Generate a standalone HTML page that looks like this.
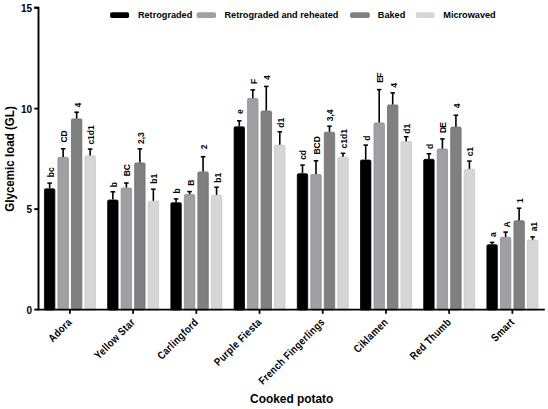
<!DOCTYPE html><html><head><meta charset="utf-8"><style>html,body{margin:0;padding:0;background:#fff;width:548px;height:409px;overflow:hidden}svg{display:block}text{font-family:"Liberation Sans",sans-serif;font-weight:bold;fill:#000}</style></head><body>
<svg width="548" height="409" viewBox="0 0 548 409">
<rect width="548" height="409" fill="#fff"/>
<rect x="44.45" y="188.80" width="10.40" height="121.20" rx="1.3" fill="#000000" stroke="#000000" stroke-width="0.8"/>
<line x1="49.65" y1="188.40" x2="49.65" y2="182.80" stroke="#000" stroke-width="1.6"/>
<line x1="47.35" y1="183.10" x2="51.95" y2="183.10" stroke="#000" stroke-width="1.5"/>
<text transform="translate(53.65,172.30) rotate(-90) scale(1,1.16)" text-anchor="middle" font-size="8.5">bc</text>
<rect x="57.95" y="157.30" width="10.40" height="152.70" rx="1.3" fill="#a0a0a4" stroke="#8e8e92" stroke-width="0.8"/>
<line x1="63.15" y1="156.90" x2="63.15" y2="148.50" stroke="#000" stroke-width="1.6"/>
<line x1="60.85" y1="148.80" x2="65.45" y2="148.80" stroke="#000" stroke-width="1.5"/>
<text transform="translate(67.15,136.45) rotate(-90) scale(1,1.16)" text-anchor="middle" font-size="8.5">CD</text>
<rect x="71.45" y="118.90" width="10.40" height="191.10" rx="1.3" fill="#808080" stroke="#6e6e6e" stroke-width="0.8"/>
<line x1="76.65" y1="118.50" x2="76.65" y2="111.90" stroke="#000" stroke-width="1.6"/>
<line x1="74.35" y1="112.20" x2="78.95" y2="112.20" stroke="#000" stroke-width="1.5"/>
<text transform="translate(80.65,105.10) rotate(-90) scale(1,1.16)" text-anchor="middle" font-size="8.5">4</text>
<rect x="84.95" y="155.80" width="10.40" height="154.20" rx="1.3" fill="#d6d6d6" stroke="#c6c6c6" stroke-width="0.8"/>
<line x1="90.15" y1="155.40" x2="90.15" y2="148.80" stroke="#000" stroke-width="1.6"/>
<line x1="87.85" y1="149.10" x2="92.45" y2="149.10" stroke="#000" stroke-width="1.5"/>
<text transform="translate(94.15,134.95) rotate(-90) scale(1,1.16)" text-anchor="middle" font-size="8.5">c1d1</text>
<line x1="69.90" y1="309" x2="69.90" y2="313.8" stroke="#000" stroke-width="1.8"/>
<text transform="translate(72.60,322.8) rotate(-45) scale(1,1.2)" text-anchor="end" font-size="9.1" letter-spacing="0.35">Adora</text>
<rect x="107.66" y="200.00" width="10.40" height="110.00" rx="1.3" fill="#000000" stroke="#000000" stroke-width="0.8"/>
<line x1="112.86" y1="199.60" x2="112.86" y2="191.50" stroke="#000" stroke-width="1.6"/>
<line x1="110.56" y1="191.80" x2="115.16" y2="191.80" stroke="#000" stroke-width="1.5"/>
<text transform="translate(116.86,184.60) rotate(-90) scale(1,1.16)" text-anchor="middle" font-size="8.5">b</text>
<rect x="121.16" y="188.00" width="10.40" height="122.00" rx="1.3" fill="#a0a0a4" stroke="#8e8e92" stroke-width="0.8"/>
<line x1="126.36" y1="187.60" x2="126.36" y2="182.70" stroke="#000" stroke-width="1.6"/>
<line x1="124.06" y1="183.00" x2="128.66" y2="183.00" stroke="#000" stroke-width="1.5"/>
<text transform="translate(130.36,170.20) rotate(-90) scale(1,1.16)" text-anchor="middle" font-size="8.5">BC</text>
<rect x="134.66" y="162.90" width="10.40" height="147.10" rx="1.3" fill="#808080" stroke="#6e6e6e" stroke-width="0.8"/>
<line x1="139.86" y1="162.50" x2="139.86" y2="148.60" stroke="#000" stroke-width="1.6"/>
<line x1="137.56" y1="148.90" x2="142.16" y2="148.90" stroke="#000" stroke-width="1.5"/>
<text transform="translate(143.86,138.15) rotate(-90) scale(1,1.16)" text-anchor="middle" font-size="8.5">2,3</text>
<rect x="148.16" y="201.20" width="10.40" height="108.80" rx="1.3" fill="#d6d6d6" stroke="#c6c6c6" stroke-width="0.8"/>
<line x1="153.36" y1="200.80" x2="153.36" y2="188.90" stroke="#000" stroke-width="1.6"/>
<line x1="151.06" y1="189.20" x2="155.66" y2="189.20" stroke="#000" stroke-width="1.5"/>
<text transform="translate(157.36,178.70) rotate(-90) scale(1,1.16)" text-anchor="middle" font-size="8.5">b1</text>
<line x1="133.11" y1="309" x2="133.11" y2="313.8" stroke="#000" stroke-width="1.8"/>
<text transform="translate(135.81,322.8) rotate(-45) scale(1,1.2)" text-anchor="end" font-size="9.1" letter-spacing="0.35">Yellow Star</text>
<rect x="170.87" y="202.70" width="10.40" height="107.30" rx="1.3" fill="#000000" stroke="#000000" stroke-width="0.8"/>
<line x1="176.07" y1="202.30" x2="176.07" y2="198.60" stroke="#000" stroke-width="1.6"/>
<line x1="173.77" y1="198.90" x2="178.37" y2="198.90" stroke="#000" stroke-width="1.5"/>
<text transform="translate(180.07,190.90) rotate(-90) scale(1,1.16)" text-anchor="middle" font-size="8.5">b</text>
<rect x="184.37" y="194.60" width="10.40" height="115.40" rx="1.3" fill="#a0a0a4" stroke="#8e8e92" stroke-width="0.8"/>
<line x1="189.57" y1="194.20" x2="189.57" y2="191.30" stroke="#000" stroke-width="1.6"/>
<line x1="187.27" y1="191.60" x2="191.87" y2="191.60" stroke="#000" stroke-width="1.5"/>
<text transform="translate(193.57,182.80) rotate(-90) scale(1,1.16)" text-anchor="middle" font-size="8.5">B</text>
<rect x="197.87" y="171.90" width="10.40" height="138.10" rx="1.3" fill="#808080" stroke="#6e6e6e" stroke-width="0.8"/>
<line x1="203.07" y1="171.50" x2="203.07" y2="156.40" stroke="#000" stroke-width="1.6"/>
<line x1="200.77" y1="156.70" x2="205.37" y2="156.70" stroke="#000" stroke-width="1.5"/>
<text transform="translate(207.07,146.90) rotate(-90) scale(1,1.16)" text-anchor="middle" font-size="8.5">2</text>
<rect x="211.37" y="195.30" width="10.40" height="114.70" rx="1.3" fill="#d6d6d6" stroke="#c6c6c6" stroke-width="0.8"/>
<line x1="216.57" y1="194.90" x2="216.57" y2="186.90" stroke="#000" stroke-width="1.6"/>
<line x1="214.27" y1="187.20" x2="218.87" y2="187.20" stroke="#000" stroke-width="1.5"/>
<text transform="translate(220.57,177.70) rotate(-90) scale(1,1.16)" text-anchor="middle" font-size="8.5">b1</text>
<line x1="196.32" y1="309" x2="196.32" y2="313.8" stroke="#000" stroke-width="1.8"/>
<text transform="translate(199.02,322.8) rotate(-45) scale(1,1.2)" text-anchor="end" font-size="9.1" letter-spacing="0.35">Carlingford</text>
<rect x="234.08" y="126.80" width="10.40" height="183.20" rx="1.3" fill="#000000" stroke="#000000" stroke-width="0.8"/>
<line x1="239.28" y1="126.40" x2="239.28" y2="120.50" stroke="#000" stroke-width="1.6"/>
<line x1="236.98" y1="120.80" x2="241.58" y2="120.80" stroke="#000" stroke-width="1.5"/>
<text transform="translate(243.28,111.70) rotate(-90) scale(1,1.16)" text-anchor="middle" font-size="8.5">e</text>
<rect x="247.58" y="98.50" width="10.40" height="211.50" rx="1.3" fill="#a0a0a4" stroke="#8e8e92" stroke-width="0.8"/>
<line x1="252.78" y1="98.10" x2="252.78" y2="89.60" stroke="#000" stroke-width="1.6"/>
<line x1="250.48" y1="89.90" x2="255.08" y2="89.90" stroke="#000" stroke-width="1.5"/>
<text transform="translate(256.78,81.45) rotate(-90) scale(1,1.16)" text-anchor="middle" font-size="8.5">F</text>
<rect x="261.08" y="111.00" width="10.40" height="199.00" rx="1.3" fill="#808080" stroke="#6e6e6e" stroke-width="0.8"/>
<line x1="266.28" y1="110.60" x2="266.28" y2="86.10" stroke="#000" stroke-width="1.6"/>
<line x1="263.98" y1="86.40" x2="268.58" y2="86.40" stroke="#000" stroke-width="1.5"/>
<text transform="translate(270.28,77.60) rotate(-90) scale(1,1.16)" text-anchor="middle" font-size="8.5">4</text>
<rect x="274.58" y="145.10" width="10.40" height="164.90" rx="1.3" fill="#d6d6d6" stroke="#c6c6c6" stroke-width="0.8"/>
<line x1="279.78" y1="144.70" x2="279.78" y2="131.50" stroke="#000" stroke-width="1.6"/>
<line x1="277.48" y1="131.80" x2="282.08" y2="131.80" stroke="#000" stroke-width="1.5"/>
<text transform="translate(283.78,122.70) rotate(-90) scale(1,1.16)" text-anchor="middle" font-size="8.5">d1</text>
<line x1="259.53" y1="309" x2="259.53" y2="313.8" stroke="#000" stroke-width="1.8"/>
<text transform="translate(262.23,322.8) rotate(-45) scale(1,1.2)" text-anchor="end" font-size="9.1" letter-spacing="0.35">Purple Fiesta</text>
<rect x="297.29" y="173.70" width="10.40" height="136.30" rx="1.3" fill="#000000" stroke="#000000" stroke-width="0.8"/>
<line x1="302.49" y1="173.30" x2="302.49" y2="164.80" stroke="#000" stroke-width="1.6"/>
<line x1="300.19" y1="165.10" x2="304.79" y2="165.10" stroke="#000" stroke-width="1.5"/>
<text transform="translate(306.49,154.90) rotate(-90) scale(1,1.16)" text-anchor="middle" font-size="8.5">cd</text>
<rect x="310.79" y="174.40" width="10.40" height="135.60" rx="1.3" fill="#a0a0a4" stroke="#8e8e92" stroke-width="0.8"/>
<line x1="315.99" y1="174.00" x2="315.99" y2="160.50" stroke="#000" stroke-width="1.6"/>
<line x1="313.69" y1="160.80" x2="318.29" y2="160.80" stroke="#000" stroke-width="1.5"/>
<text transform="translate(319.99,145.40) rotate(-90) scale(1,1.16)" text-anchor="middle" font-size="8.5">BCD</text>
<rect x="324.29" y="132.20" width="10.40" height="177.80" rx="1.3" fill="#808080" stroke="#6e6e6e" stroke-width="0.8"/>
<line x1="329.49" y1="131.80" x2="329.49" y2="125.90" stroke="#000" stroke-width="1.6"/>
<line x1="327.19" y1="126.20" x2="331.79" y2="126.20" stroke="#000" stroke-width="1.5"/>
<text transform="translate(333.49,115.30) rotate(-90) scale(1,1.16)" text-anchor="middle" font-size="8.5">3,4</text>
<rect x="337.79" y="157.20" width="10.40" height="152.80" rx="1.3" fill="#d6d6d6" stroke="#c6c6c6" stroke-width="0.8"/>
<line x1="342.99" y1="156.80" x2="342.99" y2="153.00" stroke="#000" stroke-width="1.6"/>
<line x1="340.69" y1="153.30" x2="345.29" y2="153.30" stroke="#000" stroke-width="1.5"/>
<text transform="translate(346.99,138.75) rotate(-90) scale(1,1.16)" text-anchor="middle" font-size="8.5">c1d1</text>
<line x1="322.74" y1="309" x2="322.74" y2="313.8" stroke="#000" stroke-width="1.8"/>
<text transform="translate(325.44,322.8) rotate(-45) scale(1,1.2)" text-anchor="end" font-size="9.1" letter-spacing="0.35">French Fingerlings</text>
<rect x="360.50" y="160.00" width="10.40" height="150.00" rx="1.3" fill="#000000" stroke="#000000" stroke-width="0.8"/>
<line x1="365.70" y1="159.60" x2="365.70" y2="144.80" stroke="#000" stroke-width="1.6"/>
<line x1="363.40" y1="145.10" x2="368.00" y2="145.10" stroke="#000" stroke-width="1.5"/>
<text transform="translate(369.70,138.25) rotate(-90) scale(1,1.16)" text-anchor="middle" font-size="8.5">d</text>
<rect x="374.00" y="122.90" width="10.40" height="187.10" rx="1.3" fill="#a0a0a4" stroke="#8e8e92" stroke-width="0.8"/>
<line x1="379.20" y1="122.50" x2="379.20" y2="89.30" stroke="#000" stroke-width="1.6"/>
<line x1="376.90" y1="89.60" x2="381.50" y2="89.60" stroke="#000" stroke-width="1.5"/>
<text transform="translate(383.20,78.10) rotate(-90) scale(1,1.16)" text-anchor="middle" font-size="8.5" letter-spacing="-0.8">EF</text>
<rect x="387.50" y="104.90" width="10.40" height="205.10" rx="1.3" fill="#808080" stroke="#6e6e6e" stroke-width="0.8"/>
<line x1="392.70" y1="104.50" x2="392.70" y2="92.60" stroke="#000" stroke-width="1.6"/>
<line x1="390.40" y1="92.90" x2="395.00" y2="92.90" stroke="#000" stroke-width="1.5"/>
<text transform="translate(396.70,85.30) rotate(-90) scale(1,1.16)" text-anchor="middle" font-size="8.5">4</text>
<rect x="401.00" y="141.60" width="10.40" height="168.40" rx="1.3" fill="#d6d6d6" stroke="#c6c6c6" stroke-width="0.8"/>
<line x1="406.20" y1="141.20" x2="406.20" y2="136.40" stroke="#000" stroke-width="1.6"/>
<line x1="403.90" y1="136.70" x2="408.50" y2="136.70" stroke="#000" stroke-width="1.5"/>
<text transform="translate(410.20,128.70) rotate(-90) scale(1,1.16)" text-anchor="middle" font-size="8.5">d1</text>
<line x1="385.95" y1="309" x2="385.95" y2="313.8" stroke="#000" stroke-width="1.8"/>
<text transform="translate(388.65,322.8) rotate(-45) scale(1,1.2)" text-anchor="end" font-size="9.1" letter-spacing="0.35">Ciklamen</text>
<rect x="423.71" y="159.30" width="10.40" height="150.70" rx="1.3" fill="#000000" stroke="#000000" stroke-width="0.8"/>
<line x1="428.91" y1="158.90" x2="428.91" y2="153.50" stroke="#000" stroke-width="1.6"/>
<line x1="426.61" y1="153.80" x2="431.21" y2="153.80" stroke="#000" stroke-width="1.5"/>
<text transform="translate(432.91,146.50) rotate(-90) scale(1,1.16)" text-anchor="middle" font-size="8.5">d</text>
<rect x="437.21" y="149.00" width="10.40" height="161.00" rx="1.3" fill="#a0a0a4" stroke="#8e8e92" stroke-width="0.8"/>
<line x1="442.41" y1="148.60" x2="442.41" y2="138.60" stroke="#000" stroke-width="1.6"/>
<line x1="440.11" y1="138.90" x2="444.71" y2="138.90" stroke="#000" stroke-width="1.5"/>
<text transform="translate(446.41,127.95) rotate(-90) scale(1,1.16)" text-anchor="middle" font-size="8.5" letter-spacing="-0.8">DE</text>
<rect x="450.71" y="127.10" width="10.40" height="182.90" rx="1.3" fill="#808080" stroke="#6e6e6e" stroke-width="0.8"/>
<line x1="455.91" y1="126.70" x2="455.91" y2="114.90" stroke="#000" stroke-width="1.6"/>
<line x1="453.61" y1="115.20" x2="458.21" y2="115.20" stroke="#000" stroke-width="1.5"/>
<text transform="translate(459.91,105.95) rotate(-90) scale(1,1.16)" text-anchor="middle" font-size="8.5">4</text>
<rect x="464.21" y="169.30" width="10.40" height="140.70" rx="1.3" fill="#d6d6d6" stroke="#c6c6c6" stroke-width="0.8"/>
<line x1="469.41" y1="168.90" x2="469.41" y2="160.80" stroke="#000" stroke-width="1.6"/>
<line x1="467.11" y1="161.10" x2="471.71" y2="161.10" stroke="#000" stroke-width="1.5"/>
<text transform="translate(473.41,151.65) rotate(-90) scale(1,1.16)" text-anchor="middle" font-size="8.5">c1</text>
<line x1="449.16" y1="309" x2="449.16" y2="313.8" stroke="#000" stroke-width="1.8"/>
<text transform="translate(451.86,322.8) rotate(-45) scale(1,1.2)" text-anchor="end" font-size="9.1" letter-spacing="0.35">Red Thumb</text>
<rect x="486.92" y="244.70" width="10.40" height="65.30" rx="1.3" fill="#000000" stroke="#000000" stroke-width="0.8"/>
<line x1="492.12" y1="244.30" x2="492.12" y2="242.10" stroke="#000" stroke-width="1.6"/>
<line x1="489.82" y1="242.40" x2="494.42" y2="242.40" stroke="#000" stroke-width="1.5"/>
<text transform="translate(496.12,234.70) rotate(-90) scale(1,1.16)" text-anchor="middle" font-size="8.5">a</text>
<rect x="500.42" y="237.30" width="10.40" height="72.70" rx="1.3" fill="#a0a0a4" stroke="#8e8e92" stroke-width="0.8"/>
<line x1="505.62" y1="236.90" x2="505.62" y2="231.80" stroke="#000" stroke-width="1.6"/>
<line x1="503.32" y1="232.10" x2="507.92" y2="232.10" stroke="#000" stroke-width="1.5"/>
<text transform="translate(509.62,224.45) rotate(-90) scale(1,1.16)" text-anchor="middle" font-size="8.5">A</text>
<rect x="513.92" y="220.80" width="10.40" height="89.20" rx="1.3" fill="#808080" stroke="#6e6e6e" stroke-width="0.8"/>
<line x1="519.12" y1="220.40" x2="519.12" y2="207.90" stroke="#000" stroke-width="1.6"/>
<line x1="516.82" y1="208.20" x2="521.42" y2="208.20" stroke="#000" stroke-width="1.5"/>
<text transform="translate(523.12,200.60) rotate(-90) scale(1,1.16)" text-anchor="middle" font-size="8.5">1</text>
<rect x="527.42" y="240.00" width="10.40" height="70.00" rx="1.3" fill="#d6d6d6" stroke="#c6c6c6" stroke-width="0.8"/>
<line x1="532.62" y1="239.60" x2="532.62" y2="236.60" stroke="#000" stroke-width="1.6"/>
<line x1="530.32" y1="236.90" x2="534.92" y2="236.90" stroke="#000" stroke-width="1.5"/>
<text transform="translate(536.62,226.65) rotate(-90) scale(1,1.16)" text-anchor="middle" font-size="8.5">a1</text>
<line x1="512.37" y1="309" x2="512.37" y2="313.8" stroke="#000" stroke-width="1.8"/>
<text transform="translate(515.07,322.8) rotate(-45) scale(1,1.2)" text-anchor="end" font-size="9.1" letter-spacing="0.35">Smart</text>
<path d="M34.3 7.7 H38.5 V309.6 H544.8" fill="none" stroke="#000" stroke-width="1.9"/>
<line x1="34.3" y1="7.7" x2="38.5" y2="7.7" stroke="#000" stroke-width="1.9"/>
<text x="32.0" y="11.60" text-anchor="end" font-size="10">15</text>
<line x1="34.3" y1="108.6" x2="38.5" y2="108.6" stroke="#000" stroke-width="1.9"/>
<text x="32.0" y="112.50" text-anchor="end" font-size="10">10</text>
<line x1="34.3" y1="209.1" x2="38.5" y2="209.1" stroke="#000" stroke-width="1.9"/>
<text x="32.0" y="213.00" text-anchor="end" font-size="10">5</text>
<line x1="34.3" y1="309.6" x2="38.5" y2="309.6" stroke="#000" stroke-width="1.9"/>
<text x="32.0" y="313.50" text-anchor="end" font-size="10">0</text>
<text transform="translate(14.3,159) rotate(-90) scale(1,1.12)" text-anchor="middle" font-size="11.6">Glycemic load (GL)</text>
<text transform="translate(291.7,402.6) scale(1,1.05)" text-anchor="middle" font-size="11.9">Cooked potato</text>
<rect x="110.1" y="12.3" width="19.00" height="5.8" rx="1.8" fill="#000000"/>
<text transform="translate(137.9,18.0) scale(0.985,1)" font-size="9.3">Retrograded</text>
<rect x="196.6" y="12.3" width="19.40" height="5.8" rx="1.8" fill="#a0a0a4"/>
<text transform="translate(224.5,18.0) scale(0.985,1)" font-size="9.3">Retrograded and reheated</text>
<rect x="350.1" y="12.3" width="19.70" height="5.8" rx="1.8" fill="#808080"/>
<text transform="translate(377.8,18.0) scale(0.985,1)" font-size="9.3">Baked</text>
<rect x="415.8" y="12.3" width="18.70" height="5.8" rx="1.8" fill="#d6d6d6"/>
<text transform="translate(443.3,18.0) scale(0.985,1)" font-size="9.3">Microwaved</text>
</svg></body></html>
